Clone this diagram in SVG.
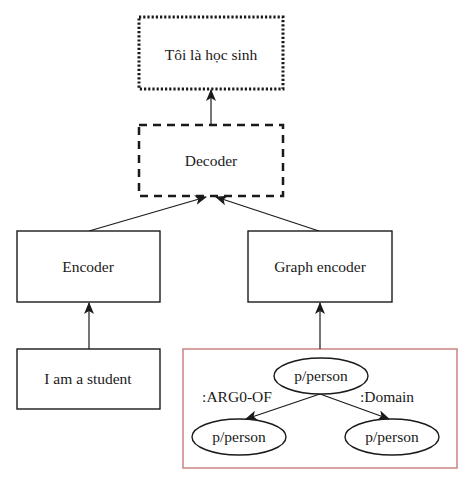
<svg xmlns="http://www.w3.org/2000/svg" width="474" height="486" viewBox="0 0 474 486" font-family="'Liberation Serif', 'DejaVu Serif', 'Times New Roman', serif">
<style>
text{font-family:'Liberation Serif','DejaVu Serif','Times New Roman',serif;font-size:15.5px;fill:#1a1a1a;text-anchor:middle;dominant-baseline:central}
.box{fill:#fff;stroke:#1a1a1a;stroke-width:1.4}
.edge{stroke:#1a1a1a;stroke-width:1.2;fill:none;marker-end:url(#ah)}
</style>
<defs>
<marker id="ah" markerWidth="12" markerHeight="10" refX="11" refY="5" orient="auto" markerUnits="userSpaceOnUse">
<path d="M0,0 L12,5 L0,10 L3,5 Z" fill="#1a1a1a"/>
</marker>
</defs>
<rect width="474" height="486" fill="#fff"/>
<g id="graph">
<rect x="183" y="349" width="274" height="119" fill="#fff" stroke="#c87a7a" stroke-width="1.4"/>
</g>
<g id="connectors">
<line class="edge" x1="211" y1="125" x2="211" y2="90"/>
<line class="edge" x1="89" y1="231" x2="206" y2="197"/>
<line class="edge" x1="319" y1="231" x2="216" y2="197"/>
<line class="edge" x1="89" y1="349" x2="89" y2="303"/>
<line class="edge" x1="320" y1="349" x2="320" y2="303"/>
<line class="edge" x1="320" y1="394" x2="246" y2="419"/>
<line class="edge" x1="320" y1="394" x2="389" y2="419"/>
</g>
<g id="output">
<rect x="139" y="17" width="144" height="72" fill="none" stroke="#1a1a1a" stroke-width="3" stroke-dasharray="2.2 2"/>
<text x="211" y="54">Tôi là học sinh</text>
</g>
<g id="decoder">
<rect x="139" y="125" width="144" height="71" fill="none" stroke="#1a1a1a" stroke-width="2.5" stroke-dasharray="8 6"/>
<text x="211" y="160">Decoder</text>
</g>
<g id="encoder">
<rect class="box" x="17" y="231" width="143" height="71"/>
<text x="88" y="266">Encoder</text>
</g>
<g id="graph-encoder">
<rect class="box" x="248" y="231" width="144" height="71"/>
<text x="320" y="266">Graph encoder</text>
</g>
<g id="source">
<rect class="box" x="17" y="349" width="143" height="60"/>
<text x="88" y="378">I am a student</text>
</g>
<g id="node-root">
<ellipse class="box" cx="321" cy="376" rx="47" ry="18"/>
<text x="321" y="375">p/person</text>
</g>
<g id="node-left">
<ellipse class="box" cx="239" cy="437" rx="47" ry="18"/>
<text x="239" y="436">p/person</text>
</g>
<g id="node-right">
<ellipse class="box" cx="392" cy="437" rx="47" ry="18"/>
<text x="392" y="436">p/person</text>
</g>
<g id="edge-labels">
<text x="237" y="396">:ARG0-OF</text>
<text x="387" y="396">:Domain</text>
</g>
</svg>
